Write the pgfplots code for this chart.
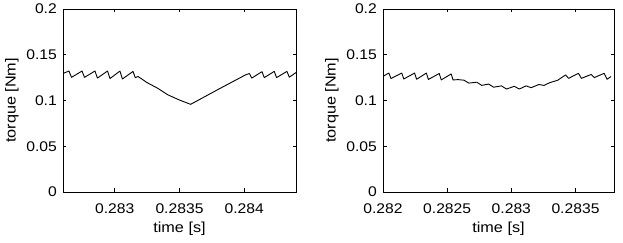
\documentclass[border=0pt]{standalone}
\usepackage{fontspec}
\setmainfont{Liberation Sans}[FakeStretch=1.12]
\usepackage{pgfplots}
\pgfplotsset{compat=1.18}
\pgfplotsset{
  mystyle/.style={
    scale only axis,
    height=183pt,
    ymin=0, ymax=0.2,
    ytick={0,0.05,0.1,0.15,0.2},
    yticklabels={0,0.05,0.1,0.15,0.2},
    tick align=inside,
    major tick length=3.5pt,
    tick style={black, line width=0.6pt},
    axis line style={black, line width=0.7pt},
    every tick label/.append style={font=\fontsize{14}{16}\selectfont, text=black},
    yticklabel style={anchor=east, inner sep=0pt, xshift=-6pt},
    xticklabel style={anchor=base, inner sep=0pt, yshift=-22pt},
    label style={font=\fontsize{14.5}{17}\selectfont},
    xlabel={time [s]},
    ylabel={torque [Nm]},
    xlabel style={at={(axis description cs:0.5,0)}, anchor=base, yshift=-41pt},
  }
}
\begin{document}
\begin{tikzpicture}
\path[use as bounding box] (0,0) rectangle (623pt,243pt);
\begin{axis}[mystyle, at={(63pt,51pt)}, anchor=south west, width=233pt,
  xmin=0.2826, xmax=0.2844,
  ylabel style={at={(axis description cs:-0.219,0.5)}, anchor=center},
  xtick={0.283,0.2835,0.284}, xticklabels={0.283,0.2835,0.284}]
\addplot[black, line width=0.9pt, mark=none, line join=round] coordinates {
(0.282600, 0.1295)
(0.282646, 0.1322)
(0.282666, 0.1253)
(0.282747, 0.1322)
(0.282766, 0.1253)
(0.282847, 0.1322)
(0.282866, 0.1245)
(0.282944, 0.1322)
(0.282963, 0.1240)
(0.283040, 0.1322)
(0.283059, 0.1235)
(0.283141, 0.1318)
(0.283158, 0.1250)
(0.283180, 0.1262)
(0.283250, 0.1195)
(0.283330, 0.1135)
(0.283410, 0.1062)
(0.283500, 0.1005)
(0.283586, 0.0958)
(0.283800, 0.1122)
(0.284010, 0.1280)
(0.284040, 0.1295)
(0.284058, 0.1245)
(0.284137, 0.1315)
(0.284155, 0.1250)
(0.284232, 0.1318)
(0.284250, 0.1250)
(0.284330, 0.1318)
(0.284348, 0.1255)
(0.284400, 0.1305)
};
\end{axis}
\begin{axis}[mystyle, at={(383pt,51pt)}, anchor=south west, width=231pt,
  xmin=0.282, xmax=0.2838,
  ylabel style={at={(axis description cs:-0.221,0.5)}, anchor=center},
  xtick={0.282,0.2825,0.283,0.2835}, xticklabels={0.282,0.2825,0.283,0.2835}]
\addplot[black, line width=0.9pt, mark=none, line join=round] coordinates {
(0.282000, 0.1265)
(0.282046, 0.1300)
(0.282062, 0.1240)
(0.282146, 0.1300)
(0.282162, 0.1235)
(0.282246, 0.1300)
(0.282262, 0.1232)
(0.282338, 0.1300)
(0.282354, 0.1230)
(0.282438, 0.1295)
(0.282454, 0.1225)
(0.282531, 0.1290)
(0.282546, 0.1225)
(0.282585, 0.1228)
(0.282631, 0.1222)
(0.282669, 0.1190)
(0.282731, 0.1200)
(0.282769, 0.1165)
(0.282823, 0.1180)
(0.282862, 0.1145)
(0.282923, 0.1160)
(0.282962, 0.1125)
(0.283023, 0.1155)
(0.283062, 0.1125)
(0.283115, 0.1160)
(0.283154, 0.1140)
(0.283215, 0.1175)
(0.283254, 0.1165)
(0.283300, 0.1195)
(0.283362, 0.1222)
(0.283423, 0.1280)
(0.283446, 0.1242)
(0.283523, 0.1297)
(0.283546, 0.1242)
(0.283623, 0.1285)
(0.283646, 0.1250)
(0.283723, 0.1297)
(0.283746, 0.1232)
(0.283777, 0.1262)
};
\end{axis}
\end{tikzpicture}
\end{document}
